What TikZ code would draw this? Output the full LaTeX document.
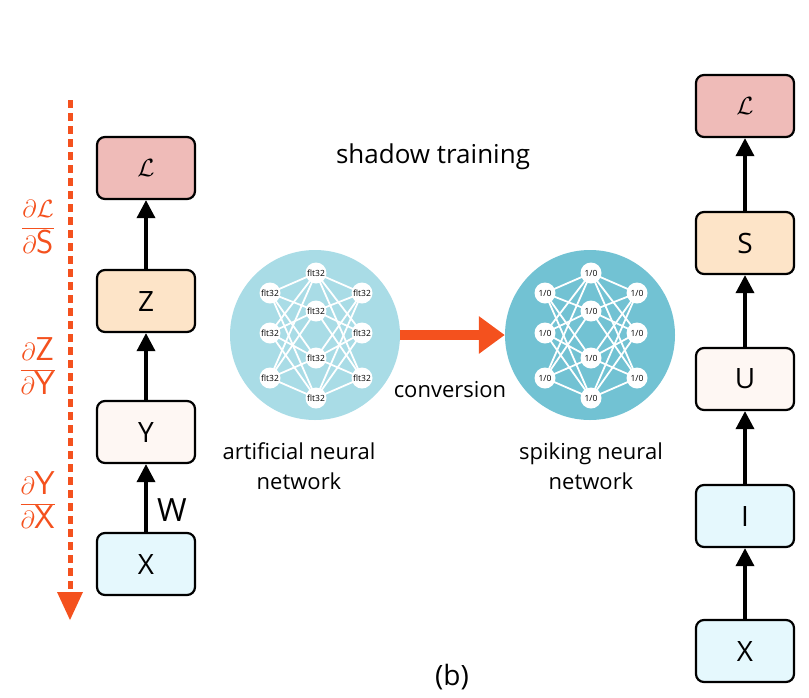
\documentclass[tikz,border=0pt]{standalone}
\usepackage{fontspec}
\setmainfont{Open Sans}
\usetikzlibrary{arrows.meta}
\definecolor{cL}{HTML}{EFBBB8}
\definecolor{cZ}{HTML}{FDE4C8}
\definecolor{cY}{HTML}{FEF7F3}
\definecolor{cX}{HTML}{E5F8FD}
\definecolor{ann}{HTML}{A9DCE6}
\definecolor{snn}{HTML}{72C2D3}
\definecolor{org}{HTML}{F4511E}
\tikzset{
 box/.style={draw=black,line width=2.2pt,rounded corners=8pt,minimum width=98pt,minimum height=62pt,font=\fontsize{28}{28}\selectfont},
 up/.style={line width=3.5pt,-{Triangle[length=18pt,width=18pt]}},
 nn/.style={circle,fill=white,minimum size=21pt,inner sep=0pt,font=\fontsize{8.5}{8.5}\selectfont},
 lbl/.style={font=\fontsize{26}{33}\selectfont,align=center},
 frac/.style={text=org,font=\fontsize{33}{33}\selectfont}
}
\begin{document}
\begin{tikzpicture}[x=1pt,y=-1pt]
\useasboundingbox (0,0) rectangle (809,697);
% left column
\node[box,fill=cL] (lL) at (146,168) {$\mathcal{L}$};
\node[box,fill=cZ] (lZ) at (146,301) {Z};
\node[box,fill=cY] (lY) at (146,432) {Y};
\node[box,fill=cX] (lX) at (146,564) {X};
\draw[up] (lX) -- node[right,font=\fontsize{32}{32}\selectfont,xshift=6pt,yshift=-12pt]{W} (lY);
\draw[up] (lY) -- (lZ);
\draw[up] (lZ) -- (lL);
\coordinate (gs) at (70,100);
\coordinate (ge) at (70,620);
\draw[org,line width=5pt,dash pattern=on 8pt off 5pt] (gs) -- (70,592);
\fill[org] (57,592) -- (83,592) -- (ge) -- cycle;
\node[frac] (f1) at (38,227) {$\displaystyle\frac{\partial\mathcal{L}}{\partial\mathsf{S}}$};
\node[frac] (f2) at (38,366) {$\displaystyle\frac{\partial\mathsf{Z}}{\partial\mathsf{Y}}$};
\node[frac] (f3) at (38,500) {$\displaystyle\frac{\partial\mathsf{Y}}{\partial\mathsf{X}}$};
% right column
\node[box,fill=cL] (rL) at (745,106) {$\mathcal{L}$};
\node[box,fill=cZ] (rS) at (745,243) {S};
\node[box,fill=cY] (rU) at (745,379) {U};
\node[box,fill=cX] (rI) at (745,516) {I};
\node[box,fill=cX] (rX) at (745,651) {X};
\draw[up] (rX) -- (rI);
\draw[up] (rI) -- (rU);
\draw[up] (rU) -- (rS);
\draw[up] (rS) -- (rL);
% networks
\node[circle,fill=ann,minimum size=170pt] (ann) at (315,335) {};
\node[circle,fill=snn,minimum size=170pt] (snn) at (590,335) {};
\foreach \c/\t/\n in {0/flt32/a,275/1{/}0/s}{
 \foreach \i/\y in {1/293,2/333,3/378}{
  \coordinate (\n L\i) at (\c+270,\y);
  \coordinate (\n R\i) at (\c+362,\y);}
 \foreach \j/\y in {1/273,2/311,3/358,4/398}{
  \coordinate (\n M\j) at (\c+316,\y);}
 \foreach \i in {1,2,3}{\foreach \j in {1,2,3,4}{
  \draw[white,line width=1.8pt] (\n L\i) -- (\n M\j);
  \draw[white,line width=1.8pt] (\n R\i) -- (\n M\j);}}
 \foreach \i in {1,2,3}{
  \node[nn] at (\n L\i) {\t}; \node[nn] at (\n R\i) {\t};}
 \foreach \j in {1,2,3,4}{\node[nn] at (\n M\j) {\t};}
}
\draw[org,line width=10pt,-{Triangle[length=26pt,width=36pt]}] (ann.east) -- (snn.west);
\node[lbl] (t1) at (433,157) {shadow training};
\node[font=\fontsize{22}{22}\selectfont] (t2) at (450,390) {conversion};
\node[font=\fontsize{22}{30}\selectfont,align=center] (t3) at (299,466) {artificial neural\\network};
\node[font=\fontsize{22}{30}\selectfont,align=center] (t4) at (591,466) {spiking neural\\network};
\node[font=\rmfamily\fontsize{28}{28}\selectfont] (b) at (452,677) {(b)};
\end{tikzpicture}
\end{document}
